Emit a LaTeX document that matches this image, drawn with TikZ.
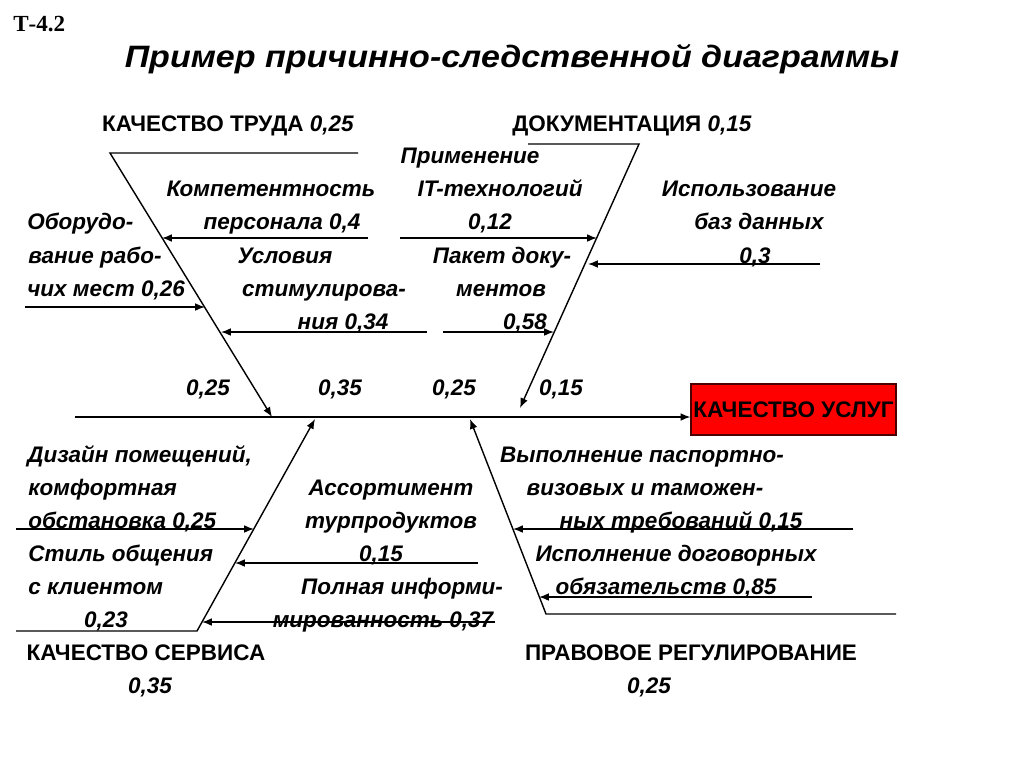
\documentclass[tikz,border=0pt]{standalone}
\usepackage{fontspec}
\setmainfont{Liberation Sans}
\newfontfamily\serifnum{Liberation Serif}
\newfontfamily\titlefont{Liberation Sans}[FakeStretch=1.1]
\usetikzlibrary{arrows.meta}

\newcommand{\causefont}{\fontsize{16}{18}\selectfont\bfseries\itshape}
\newcommand{\groupfont}{\fontsize{16}{18}\selectfont\bfseries}

\tikzset{
  bone/.style={line width=1pt},
  branch/.style={line width=1pt,-{Latex[length=7pt,width=5.5pt]}},
  cause/.style={font=\causefont,inner sep=0pt,anchor=base},
  causeleft/.style={cause,anchor=base west},
  group/.style={font=\groupfont,inner sep=0pt,anchor=base},
}

\begin{document}
\begin{tikzpicture}[x=0.25mm,y=-0.25mm]
  \useasboundingbox (0,0) rectangle (1024,768);

  % headings
  \node[font=\serifnum\fontsize{16.4}{18}\selectfont\bfseries,inner sep=0pt,anchor=base west] (sheet) at (13,31) {Т-4.2};
  \node[font=\titlefont\fontsize{22}{24}\selectfont\bfseries\itshape,inner sep=0pt,anchor=base] (title) at (512,67) {Пример причинно-следственной диаграммы};

  % effect
  \node[draw=black!70!red,fill=red,line width=0.8pt,minimum width=51.25mm,minimum height=12.75mm,inner sep=0pt,font=\groupfont] (effect) at (793.5,409.5) {КАЧЕСТВО УСЛУГ};

  % group names
  \node[group] (labour) at (228,131) {КАЧЕСТВО ТРУДА \textit{0,25}};
  \node[group] (docs) at (632,131) {ДОКУМЕНТАЦИЯ \textit{0,15}};
  \node[group] (service) at (146,660) {КАЧЕСТВО СЕРВИСА};
  \node[group] (law) at (691,660) {ПРАВОВОЕ РЕГУЛИРОВАНИЕ};

  % causes, left column
  \foreach \x/\y/\t [count=\i] in {27/229/Оборудо-, 28/263/вание рабо-, {27/296/чих мест 0,26},
      {27/462/Дизайн помещений,}, 28/495/комфортная, {28/528/обстановка 0,25},
      28/561/Стиль общения, 28/594/с клиентом}
    \node[causeleft] (l\i) at (\x,\y) {\t};

  % causes, other columns
  \foreach \x/\y/\t [count=\i] in {271/196/Компетентность, {282/229/персонала 0,4}, 285/263/Условия,
      324/296/стимулирова-, {343/329/ния 0,34},
      470/163/Применение, 500/196/IT-технологий, {490/229/0,12}, 502/263/Пакет доку-,
      501/296/ментов, {525/329/0,58},
      749/196/Использование, 759/229/баз данных, {755/263/0,3},
      {208/395/0,25}, {340/395/0,35}, {454/395/0,25}, {561/395/0,15},
      {106/627/0,23}, {150/693/0,35},
      391/495/Ассортимент, 391/528/турпродуктов, {381/561/0,15},
      402/594/Полная информи-, {383/627/мированность 0,37},
      642/462/Выполнение паспортно-, 645/495/визовых и таможен-,
      {681/528/ных требований 0,15}, 676/561/Исполнение договорных,
      {666/594/обязательств 0,85}, {649/693/0,25}}
    \node[cause] (c\i) at (\x,\y) {\t};

  % bones
  \coordinate (spine) at (75,417);
  \coordinate (lab0) at (358,153);
  \coordinate (lab1) at (110,153);
  \coordinate (lab2) at (272,417);
  \coordinate (doc0) at (528,144);
  \coordinate (doc1) at (639,144);
  \coordinate (doc2) at (520,408);
  \coordinate (ser0) at (16,631);
  \coordinate (ser1) at (197,631);
  \coordinate (ser2) at (315,419);
  \coordinate (law0) at (896,614);
  \coordinate (law1) at (546,614);
  \coordinate (law2) at (470,419);

  \draw[branch] (spine) -- (spine -| effect.west);
  \draw[branch] (lab0) -- (lab1) -- (lab2);
  \draw[branch] (doc0) -- (doc1) -- (doc2);
  \draw[branch] (ser0) -- (ser1) -- (ser2);
  \draw[branch] (law0) -- (law1) -- (law2);

  % sub-causes
  \foreach \a/\b/\p/\q [count=\i] in {368/238/162/238, 25/307/205/307, 427/332/221/332,
      400/238/597/238, 820/264/588/264, 443/332/554/332,
      16/529/254/529, 478/563/235/563, 495/622/202/622,
      853/529/513/529, 812/597/539/597} {
    \coordinate (s\i) at (\a,\b);
    \coordinate (e\i) at (\p,\q);
    \draw[branch] (s\i) -- (e\i);
  }
\end{tikzpicture}
\end{document}
